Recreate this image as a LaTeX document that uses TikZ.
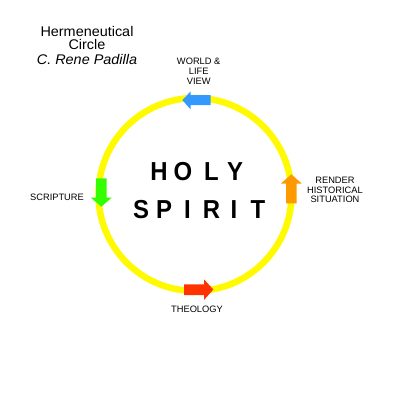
\documentclass[tikz,border=0pt]{standalone}
\usepackage{fontspec}
\setmainfont{Liberation Sans}
\definecolor{ringyellow}{RGB}{255,250,0}
\definecolor{arrblue}{RGB}{51,153,255}
\definecolor{arrorange}{RGB}{255,153,0}
\definecolor{arrgreen}{RGB}{51,255,0}
\definecolor{arrred}{RGB}{255,51,0}
\begin{document}
\begin{tikzpicture}[x=1pt,y=-1pt,
  titletext/.style={font=\fontsize{14}{14}\selectfont, anchor=base, inner sep=0pt},
  smalllabel/.style={font=\fontsize{9.3}{9.8}\selectfont, align=center, inner sep=0pt},
  spiritletter/.style={font=\fontsize{26}{26}\selectfont\bfseries, anchor=base, inner sep=0pt, xscale=0.92}]
\useasboundingbox (0,0) rectangle (400,400);
% ring
\coordinate (ctr) at (195,194.5);
\draw[ringyellow, line width=6.5pt] (ctr) circle (96.5);
% title
\node[titletext, xscale=1.03] (t1) at (87,36.4) {Hermeneutical};
\node[titletext, xscale=1.03] (t2) at (87,49.6) {Circle};
\node[titletext, xscale=1.03] (t3) at (87,64.5) {\itshape C. Rene Padilla};
% arrows
\fill[arrblue] (182.3,100) -- (190.5,91.7) -- (190.5,95) -- (210.7,95) -- (210.7,105) -- (190.5,105) -- (190.5,109.3) -- cycle;
\fill[arrorange] (291.3,174.3) -- (301.7,183.5) -- (296.5,183.5) -- (296.5,203.3) -- (286,203.3) -- (286,183.5) -- (281,183.5) -- cycle;
\fill[arrgreen] (101.3,206.7) -- (111.7,197.7) -- (106.5,197.7) -- (106.5,178.3) -- (96,178.3) -- (96,197.7) -- (91,197.7) -- cycle;
\fill[arrred] (213.3,289.5) -- (204,279.3) -- (204,284.3) -- (184,284.3) -- (184,295) -- (204,295) -- (204,300) -- cycle;
% labels
\node[smalllabel] (world) at (198.7,71) {WORLD \&\\LIFE\\VIEW};
\node[smalllabel] (render) at (335,190) {RENDER\\HISTORICAL\\SITUATION};
\node[smalllabel] (scripture) at (57,197) {SCRIPTURE};
\node[smalllabel] (theology) at (197,309) {THEOLOGY};
% HOLY SPIRIT
\node[spiritletter] (h1) at (159,180) {H};
\node[spiritletter] (h2) at (183,180) {O};
\node[spiritletter] (h3) at (211.5,180) {L};
\node[spiritletter] (h4) at (235,180) {Y};
\node[spiritletter] (s1) at (141,218) {S};
\node[spiritletter] (s2) at (164,218) {P};
\node[spiritletter] (s3) at (187.5,218) {I};
\node[spiritletter] (s4) at (211.5,218) {R};
\node[spiritletter] (s5) at (234,218) {I};
\node[spiritletter] (s6) at (258,218) {T};
\end{tikzpicture}
\end{document}
